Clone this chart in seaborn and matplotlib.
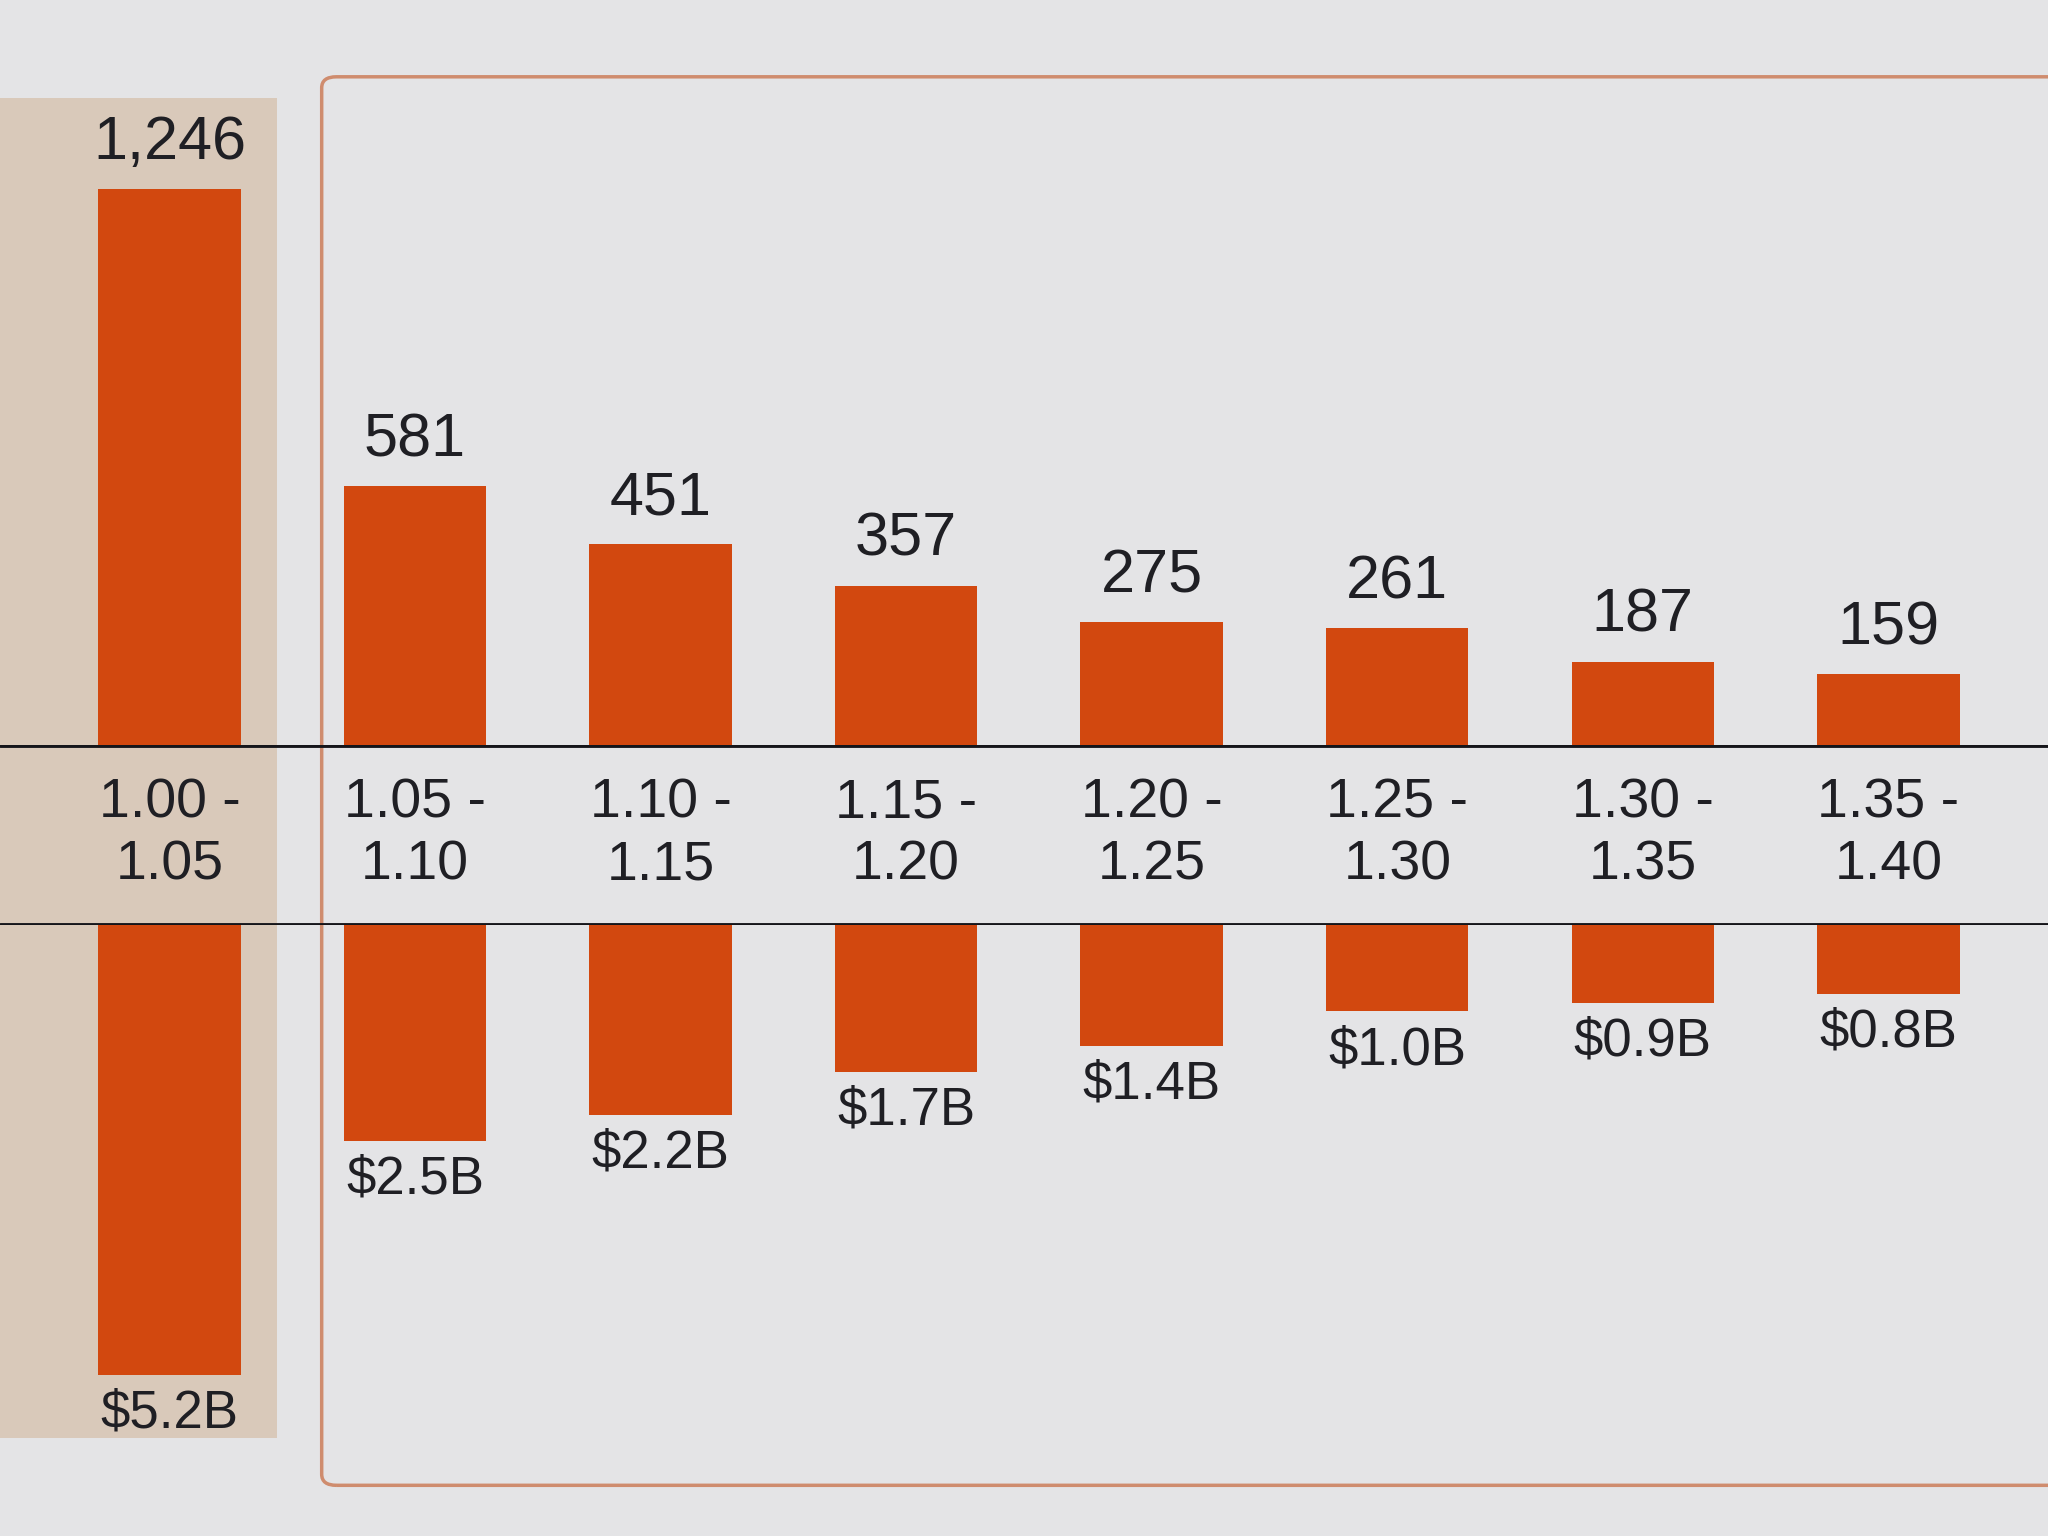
import matplotlib
matplotlib.use('Agg')
import matplotlib.pyplot as plt
from matplotlib.patches import Rectangle, FancyBboxPatch
import seaborn as sns

# data
ranges = ['1.00 - 1.05', '1.05 - 1.10', '1.10 - 1.15', '1.15 - 1.20',
          '1.20 - 1.25', '1.25 - 1.30', '1.30 - 1.35', '1.35 - 1.40']
counts = [1246, 581, 451, 357, 275, 261, 187, 159]
spend_b = [5.2, 2.5, 2.2, 1.7, 1.4, 1.0, 0.9, 0.8]

bar_color = '#d2480f'
beige = '#d9c9ba'
bracket_color = '#cf8c6e'
bg_color = '#e4e4e6'
text_color = '#1f1f24'

sns.set_style('white')
plt.rcParams['font.family'] = ['Liberation Sans', 'DejaVu Sans']

x_lo, x_hi = -0.69, 7.65

fig = plt.figure(figsize=(20.48, 15.36), dpi=100)
fig.patch.set_facecolor(bg_color)

# background layer: highlight for first bin + bracket round the rest
bg = fig.add_axes([0, 0, 1, 1], zorder=0)
bg.set_xlim(x_lo, x_hi)
bg.set_ylim(0, 1)
bg.axis('off')
bg.add_patch(Rectangle((x_lo, 0.064), 0.44 - x_lo, 0.936 - 0.064,
                       facecolor=beige, edgecolor='none'))
bg.add_patch(FancyBboxPatch((0.62, 0.033), 12, 0.917,
                            boxstyle='round,pad=0,rounding_size=0.06',
                            mutation_aspect=0.12,
                            facecolor='none', edgecolor=bracket_color, linewidth=2.5))

# top: counts
ax1 = fig.add_axes([0, 0.515, 1, 0.362], zorder=2)
sns.barplot(x=ranges, y=counts, color=bar_color, saturation=1, width=0.58,
            linewidth=0, ax=ax1)
ax1.set_xlim(x_lo, x_hi)
ax1.set_ylim(0, 1246)
ax1.bar_label(ax1.containers[0], labels=[f'{c:,}' for c in counts],
              padding=12, fontsize=44, color=text_color)
ax1.axis('off')
ax1.patch.set_alpha(0)

# middle band with bin labels
ax2 = fig.add_axes([0, 0.398, 1, 0.117], zorder=2)
ax2.set_xlim(x_lo, x_hi)
ax2.set_ylim(0, 1)
ax2.axhline(1, color='#15151a', lw=3.5)
ax2.axhline(0, color='#15151a', lw=3.5)
for i, r in enumerate(ranges):
    ax2.text(i, 0.5, r.replace(' - ', ' -\n'), ha='center', va='center',
             fontsize=40, color=text_color, linespacing=1.25)
ax2.axis('off')
ax2.patch.set_alpha(0)

# bottom: dollars, hanging down
ax3 = fig.add_axes([0, 0.105, 1, 0.293], zorder=2)
sns.barplot(x=ranges, y=spend_b, color=bar_color, saturation=1, width=0.58,
            linewidth=0, ax=ax3)
ax3.set_xlim(x_lo, x_hi)
ax3.set_ylim(5.2, 0)
ax3.bar_label(ax3.containers[0], labels=[f'${v:.1f}B' for v in spend_b],
              padding=10, fontsize=38, color=text_color)
ax3.axis('off')
ax3.patch.set_alpha(0)

fig.savefig('out.png', dpi=100, facecolor=fig.get_facecolor())
